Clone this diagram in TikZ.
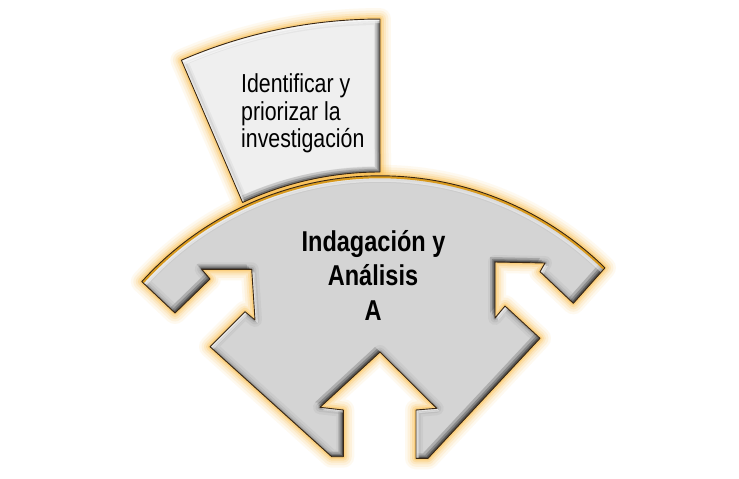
\documentclass[tikz,border=0pt]{standalone}
\usepackage{fontspec}
\setmainfont{Liberation Sans}
\newfontfamily\narrowfont[FakeStretch=0.82]{Liberation Sans}
\definecolor{glowc}{HTML}{FBB93C}
\definecolor{rimc}{HTML}{3A2712}
\definecolor{goldc}{HTML}{D99A1E}
\definecolor{mainfill}{HTML}{D4D4D4}
\definecolor{boxfill}{HTML}{EFEFEF}
\def\mainpath{(141.8,281.6) arc[start angle=-137.9, end angle=-45.5, radius=321] -- (573.3,303.3) -- (540,271.7) -- (545,263) -- (495,262) -- (495,318) -- (505,306) -- (540,338.3) -- (428,458.3) -- (416,458.3) -- (416,410) -- (436.7,408.3) -- (380,352) -- (320,407.3) -- (343.3,410) -- (343.3,456.7) -- (331.7,456.7) -- (210,346.7) -- (245,311.7) -- (255,320) -- (251.7,269.3) -- (201.7,269.3) -- (210,279) -- (175,313) -- cycle}
\def\boxpath{(242.6,202.5) -- (181.4,60.2) arc[start angle=-113.4, end angle=-90, radius=500] -- (380,172) arc[start angle=-90, end angle=-115, radius=325] -- cycle}
\tikzset{
  glow/.style={glowc, line join=round},
  rim/.style={draw=rimc, line width=0.9pt, line join=round},
  txtsmall/.style={font=\narrowfont\fontsize{26}{27.5}\selectfont, inner sep=0pt, anchor=base west},
  txtbig/.style={font=\narrowfont\bfseries\fontsize{28.7}{34}\selectfont, inner sep=0pt, anchor=base}
}
\begin{document}
\begin{tikzpicture}[x=1pt,y=-1pt]
\useasboundingbox (0,0) rectangle (739,479);
\fill[white] (0,0) rectangle (739,479);
% glow
\foreach \w/\o in {22/0.08,17/0.11,12/0.15,8/0.22,4/0.35}{
  \draw[glow, line width=\w pt, opacity=\o] \mainpath;
  \draw[glow, line width=\w pt, opacity=\o] \boxpath;
}
% main shape
\fill[mainfill] \mainpath;
\begin{scope}
  \clip \mainpath;
  \foreach \w/\o in {14/0.04,9/0.06,5/0.09,2.5/0.14}{
    \draw[black, line width=\w pt, opacity=\o, line join=round] \mainpath;
  }
  \foreach \s/\o in {5/0.14,3/0.18,1.5/0.24}{
    \begin{scope}[shift={(-\s,-\s)}]
      \fill[black, opacity=\o, even odd rule] (-60,-60) rectangle (800,560) \mainpath;
    \end{scope}
  }
  \foreach \s/\o in {3/0.4,1.5/0.55}{
    \begin{scope}[shift={(\s,\s)}]
      \fill[white, opacity=\o, even odd rule] (-60,-60) rectangle (800,560) \mainpath;
    \end{scope}
  }
  \draw[white, line width=12pt, opacity=0.45] (141.8,281.6) arc[start angle=-137.9, end angle=-45.5, radius=321];
  \draw[goldc, line width=5pt] (141.8,281.6) arc[start angle=-137.9, end angle=-45.5, radius=321];
\end{scope}
\draw[rim] \mainpath;
% top box
\fill[boxfill] \boxpath;
\begin{scope}
  \clip \boxpath;
  \foreach \w/\o in {12/0.04,8/0.06,4/0.09}{
    \draw[black, line width=\w pt, opacity=\o, line join=round] \boxpath;
  }
  \foreach \s/\o in {5/0.12,3/0.15,1.5/0.2}{
    \begin{scope}[shift={(-\s,-\s)}]
      \fill[black, opacity=\o, even odd rule] (-60,-60) rectangle (800,560) \boxpath;
    \end{scope}
  }
  \foreach \s/\o in {4/0.5,2/0.7}{
    \begin{scope}[shift={(\s,\s)}]
      \fill[white, opacity=\o, even odd rule] (-60,-60) rectangle (800,560) \boxpath;
    \end{scope}
  }
\end{scope}
\draw[rim] \boxpath;
% texts
\node[txtsmall] (t1) at (241,92.7) {Identificar y};
\node[txtsmall] (t2) at (241,120) {priorizar la};
\node[txtsmall] (t3) at (241,147.7) {investigación};
\node[txtbig] (m1) at (373.5,251.7) {Indagación y};
\node[txtbig] (m2) at (373,285) {Análisis};
\node[txtbig] (m3) at (373,320) {A};
\end{tikzpicture}
\end{document}
